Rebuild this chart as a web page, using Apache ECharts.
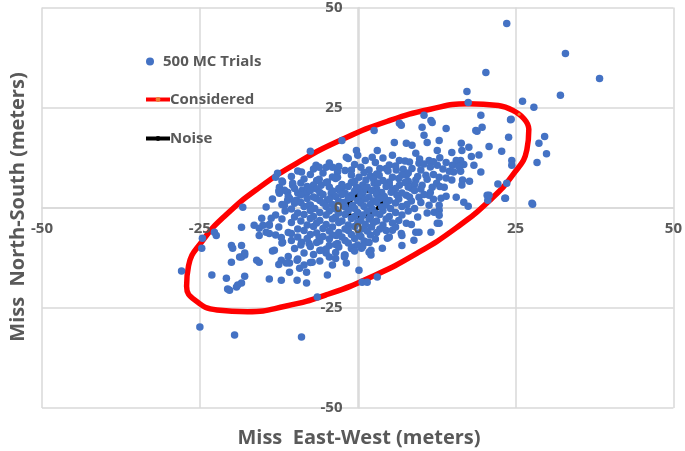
<!DOCTYPE html>
<html>
<head>
<meta charset="utf-8">
<script src="https://cdn.jsdelivr.net/npm/echarts@6/dist/echarts.min.js"></script>
<style>
  html, body { margin: 0; padding: 0; background: #ffffff; }
  #chart { width: 685px; height: 451px; }
</style>
</head>
<body>
<div id="chart"></div>
<script>
// axis range / ticks
const axisMin = -50
const axisMax = 50
const axisStep = 25

// Considered region boundary
const consideredEllipse = [
  [25.56, 23.33], [22.28, 25.51], [17.48, 25.94], [11.49, 24.6], [4.72, 21.6],
  [-2.37, 17.11], [-9.3, 11.46], [-15.6, 5.03], [-20.84, -1.75], [-24.65, -8.4],
  [-26.79, -14.48], [-27.1, -19.57], [-25.56, -23.33], [-22.28, -25.51], [-17.48, -25.94],
  [-11.49, -24.6], [-4.72, -21.6], [2.37, -17.11], [9.3, -11.46], [15.6, -5.03],
  [20.84, 1.75], [24.65, 8.4], [26.79, 14.48], [27.1, 19.57], [25.56, 23.33]
]

// Noise region boundary (small, near the origin)
const noiseEllipse = [
  [3.9, 2.34], [3.52, 3.73], [2.5, 4.38], [1.1, 4.13], [-0.3, 3.04], [-1.32, 1.41],
  [-1.7, -0.34], [-1.32, -1.73], [-0.3, -2.38], [1.1, -2.13], [2.5, -1.04], [3.52, 0.59],
  [3.9, 2.34]
]

// 500 MC trials, miss east-west / north-south (meters)
const trials = [
  // outer / upper right
  [23.6, 46.0], [32.9, 38.5], [38.3, 32.3], [32.1, 28.1], [26.1, 26.6], [27.9, 25.1], [20.3, 33.8],
  [17.3, 29.0], [17.5, 26.3], [19.5, 23.1], [24.2, 22.0], [19.7, 20.1], [18.9, 19.1], [23.9, 17.6],
  [29.6, 17.8], [28.7, 16.1], [29.9, 13.5], [28.4, 11.3], [20.8, 15.3], [22.8, 14.1], [17.6, 15.1],
  [16.5, 14.3], [18.0, 12.8], [19.2, 13.2], [24.4, 11.8], [24.4, 10.6], [16.8, 10.8], [18.4, 10.6],
  [19.5, 8.9], [16.3, 9.1], [16.6, 6.9], [17.7, 6.6], [22.2, 5.9], [23.6, 6.1], [20.8, 3.1],
  [20.6, 1.9], [23.3, 2.4], [27.7, 0.9], [16.8, 1.4], [17.5, 0.4], [16.3, 11.8],
  [2.6, 19.3], [10.5, 23.1], [11.6, 21.8], [6.6, 21.1], [14.0, 19.8], [18.7, 19.3], [16.4, 16.1],
  [24.3, 22.1],
  // upper middle
  [6.9, 20.6], [10.2, 20.1], [11.8, 21.3], [5.8, 16.3], [7.7, 16.1], [8.6, 15.6], [10.5, 18.1],
  [11.0, 16.3], [12.9, 16.8], [12.6, 14.3], [14.9, 13.8], [3.1, 14.3], [2.3, 12.6], [5.5, 13.1],
  [6.6, 11.8], [9.2, 13.6], [9.7, 11.1], [8.6, 9.8], [11.3, 11.8], [12.6, 10.6], [14.0, 11.3],
  [15.6, 11.8], [15.2, 8.9], [12.9, 7.6], [10.8, 8.1], [9.2, 6.9], [7.7, 8.1], [6.1, 9.4],
  [4.5, 9.8], [3.4, 8.1], [1.8, 9.4], [1.3, 6.9], [2.6, 6.1], [5.0, 6.4], [6.6, 5.6], [8.5, 4.9],
  [10.2, 5.6], [11.8, 5.1], [13.7, 5.1], [14.9, 6.9], [15.6, 2.6], [13.2, 2.4], [11.3, 3.1],
  [9.7, 2.6], [7.7, 3.1], [5.3, 3.9], [4.5, 1.9], [0.2, 7.6], [-0.2, 5.1], [0.6, 2.6], [-1.0, 3.1],
  [1.0, 4.4],
  // upper left
  [-2.5, 16.8], [-7.5, 14.1], [-12.7, 8.6], [-13.0, 7.6], [-18.2, 0.1], [-8.9, 8.9], [-12.4, 5.1],
  [-10.3, 5.6], [-11.1, 3.9], [-8.8, 4.4], [-8.1, 3.6], [-11.1, 1.9], [-9.7, 1.9], [-11.6, 0.6],
  [-6.6, 10.6], [-6.1, 10.1], [-5.0, 10.1], [-4.0, 10.1], [-3.2, 8.9], [-1.8, 12.6], [-6.1, 7.1],
  [-5.8, 5.6], [-4.2, 3.6], [-4.8, 1.9], [-6.6, 2.4], [-7.7, 0.6], [-2.9, 4.4], [-0.2, 14.3],
  [0.0, 13.1], [-1.0, 9.4], [-4.8, 6.4], [-3.2, 7.6], [-2.4, 5.1], [-10.8, 2.4], [-10.0, 1.1],
  [-12.4, 3.6], [-11.9, 6.4], [-11.6, 4.4], [-10.3, 6.1],
  // lower right
  [27.6, 1.1], [23.4, 2.4], [20.5, 3.1], [11.3, 0.6], [12.1, -1.1], [12.9, -0.6], [12.9, -3.9],
  [9.7, -6.1], [11.6, -6.1], [8.9, -8.1], [7.7, -3.9], [7.0, -6.9], [5.5, -5.6], [4.7, -7.6],
  [3.9, -10.1], [2.1, -10.6], [1.5, -8.6], [0.6, -10.1], [0.2, -15.6], [3.1, -17.3], [-2.1, -12.3],
  [-0.6, -9.8], [0.7, -18.6], [1.5, -18.6], [7.0, -9.4], [6.9, -6.4], [9.2, -6.1], [12.6, -3.9],
  [12.9, -1.9], [12.9, 0.6], [1.8, -11.1], [2.1, -11.8],
  // lower left
  [-6.4, -22.3], [-4.8, -16.8], [-8.1, -18.8], [-9.6, -18.1], [-12.1, -18.1], [-14.0, -17.8],
  [-18.4, -18.8], [-19.2, -19.8], [-20.3, -20.6], [-9.2, -15.1], [-8.1, -16.1], [-10.8, -16.1],
  [-12.1, -13.1], [-10.8, -13.8], [-9.6, -13.1], [-8.5, -14.3], [-7.2, -13.6], [-2.1, -11.8],
  [-1.8, -13.8], [-16.4, -4.4], [-15.2, -2.6], [-15.0, -4.4], [-14.0, -6.4], [-13.7, -2.6],
  [-18.4, -9.4], [-17.9, -11.8], [-18.4, -12.3], [-20.0, -9.4], [-16.0, -13.1], [-15.6, -13.6],
  [-12.1, -7.4], [-10.5, -6.4], [-11.9, -8.6], [-8.9, -8.6], [-7.7, -8.9], [-6.1, -7.4],
  [-5.0, -11.3], [-5.8, -10.6], [-4.5, -9.4], [-3.2, -8.9], [-3.4, -6.9],
  [-27.9, -15.8], [-24.7, -10.1], [-24.6, -7.6], [-22.7, -6.1], [-22.4, -6.9], [-23.1, -16.8],
  [-20.8, -17.6], [-20.6, -20.3], [-19.0, -19.3], [-17.9, -17.1], [-20.0, -13.6], [-19.8, -10.1],
  [-18.4, -4.9], [-18.7, -12.3], [-15.6, -6.9], [-25.0, -29.8], [-19.5, -31.8], [-8.9, -32.3],
  [-14.5, -6.1], [-14.0, -4.4], [-13.2, -10.6], [-11.3, -13.8], [-17.9, -11.3], [-15.6, -5.1],
  // dense core
  [-1.5, 12.3], [1.2, 11.8], [4.0, 12.4], [7.5, 11.7], [9.8, 12.2], [13.0, 12.5],
  [-4.5, 11.2], [-0.5, 10.8], [2.8, 11.3], [5.0, 10.7], [8.2, 11.4], [10.5, 10.9], [12.0, 11.5], [15.0, 10.6],
  [-7.0, 9.7], [-3.0, 10.3], [0.5, 10.1], [3.5, 9.8], [6.0, 10.4], [7.2, 9.6], [11.5, 10.2], [13.5, 9.7], [16.0, 10.3],
  [-9.5, 9.2], [-5.5, 8.7], [-2.0, 9.3], [1.0, 8.8], [4.8, 9.2], [8.0, 8.7], [10.0, 9.4], [14.5, 9.1],
  [-10.5, 7.8], [-7.5, 8.3], [-4.0, 7.7], [-1.0, 8.2], [2.0, 7.9], [3.0, 8.4], [5.5, 7.6], [7.0, 8.2], [9.5, 7.8], [12.0, 8.3],
  [-12.0, 6.7], [-8.5, 7.2], [-6.5, 6.8], [-3.5, 7.3], [-0.5, 6.6], [2.5, 7.2], [4.0, 6.8], [6.5, 7.3], [8.0, 6.6], [11.0, 7.1], [14.0, 7.4],
  [-9.0, 6.2], [-7.0, 5.7], [-5.0, 6.3], [-2.5, 5.8], [-1.0, 6.3], [0.8, 5.7], [3.2, 6.2], [5.0, 5.6], [7.5, 6.3], [9.0, 5.8], [12.5, 6.1], [16.5, 5.7],
  [-10.0, 4.8], [-8.0, 5.3], [-6.5, 4.7], [-4.5, 5.2], [-3.0, 4.8], [-1.5, 5.3], [0.0, 4.6], [1.5, 5.2], [3.0, 4.7], [4.5, 5.3], [6.0, 4.8], [8.0, 5.2], [10.0, 4.7], [13.0, 5.3],
  [-12.5, 4.2], [-9.5, 3.7], [-7.5, 4.3], [-6.0, 3.8], [-4.0, 4.2], [-2.0, 3.6], [-0.5, 4.1], [0.8, 3.7], [2.2, 4.3], [3.8, 3.8], [5.5, 4.2], [7.0, 3.7], [9.0, 4.3], [11.5, 3.8],
  [-11.0, 2.8], [-9.0, 3.2], [-7.0, 2.7], [-5.5, 3.3], [-3.5, 2.8], [-2.5, 3.3], [-1.0, 2.6], [0.5, 3.2], [1.8, 2.7], [3.0, 3.3], [4.2, 2.8], [6.2, 3.2], [8.2, 2.7], [10.5, 3.3], [14.0, 2.9],
  [-13.5, 2.2], [-10.0, 1.7], [-8.0, 2.3], [-6.0, 1.8], [-4.5, 2.2], [-3.0, 1.6], [-1.5, 2.3], [0.0, 1.8], [1.2, 2.2], [2.5, 1.7], [3.5, 2.3], [5.0, 1.8], [6.5, 2.2], [8.5, 1.7], [12.0, 2.1],
  [-12.0, 0.8], [-9.0, 1.3], [-7.5, 0.7], [-5.5, 1.2], [-4.0, 0.8], [-2.2, 1.3], [-0.8, 0.6], [0.5, 1.2], [2.0, 0.8], [3.0, 1.4], [4.5, 0.7], [6.0, 1.2], [7.8, 0.8], [10.0, 1.3],
  [-14.5, 0.2], [-10.5, -0.3], [-8.5, 0.3], [-6.8, -0.2], [-5.0, 0.3], [-3.5, -0.3], [-2.0, 0.2], [-0.5, -0.2], [1.0, 0.3], [2.3, -0.3], [3.8, 0.2], [5.2, -0.2], [7.0, 0.3], [9.0, -0.2],
  [-11.5, -0.8], [-9.5, -1.3], [-7.5, -0.7], [-6.0, -1.2], [-4.5, -0.8], [-3.0, -1.3], [-1.5, -0.7], [0.0, -1.2], [1.5, -0.8], [2.8, -1.3], [4.0, -0.7], [6.0, -1.2], [8.0, -0.8], [11.0, -1.3],
  [-13.0, -1.8], [-10.0, -2.3], [-8.5, -1.7], [-7.0, -2.2], [-5.0, -1.8], [-3.5, -2.3], [-2.0, -1.7], [-0.5, -2.2], [0.8, -1.8], [2.0, -2.3], [3.5, -1.7], [5.0, -2.2], [7.0, -1.8], [9.5, -2.3],
  [-12.0, -2.8], [-9.0, -3.3], [-7.5, -2.7], [-6.0, -3.2], [-4.0, -2.8], [-2.5, -3.3], [-1.0, -2.7], [0.5, -3.2], [1.8, -2.8], [3.0, -3.3], [4.5, -2.8], [6.5, -3.2],
  [-14.0, -4.2], [-10.5, -3.7], [-8.0, -4.3], [-6.5, -3.8], [-5.0, -4.2], [-3.0, -3.7], [-1.5, -4.3], [0.0, -3.8], [1.2, -4.2], [2.5, -3.7], [4.0, -4.3], [5.5, -3.8], [8.5, -4.2],
  [-12.5, -4.8], [-9.5, -5.3], [-7.0, -4.7], [-5.5, -5.2], [-4.0, -4.8], [-2.0, -5.3], [-0.5, -4.7], [1.0, -5.2], [2.2, -4.8], [3.5, -5.3], [6.0, -4.8],
  [-11.0, -6.2], [-8.5, -5.7], [-6.5, -6.3], [-4.5, -5.8], [-3.0, -6.2], [-1.5, -5.7], [0.2, -6.3], [1.5, -5.8], [3.0, -6.2], [4.5, -5.7],
  [-13.0, -6.8], [-9.5, -7.3], [-7.5, -6.7], [-5.5, -7.2], [-4.0, -6.8], [-2.5, -7.3], [-1.0, -6.7], [0.5, -7.2], [2.0, -6.8], [5.0, -7.3],
  [-10.5, -8.2], [-8.0, -7.7], [-6.0, -8.3], [-4.5, -7.8], [-2.0, -8.2], [-0.5, -7.7], [1.0, -8.3], [2.8, -7.8],
  [-12.0, -8.8], [-9.0, -9.3], [-6.5, -8.7], [-3.5, -9.2], [-1.5, -8.8], [0.0, -9.3], [1.8, -8.7],
  [-10.0, -10.2], [-7.5, -9.7], [-5.0, -10.3], [-3.0, -9.8], [-1.0, -10.2], [0.8, -9.7],
  [-13.5, -10.8], [-8.5, -11.3], [-6.0, -10.7], [-3.5, -11.2], [-0.5, -10.8],
  [-11.0, -12.2], [-7.0, -11.7], [-4.5, -12.3], [-2.0, -11.8],
  [-9.5, -12.8], [-6.0, -13.3], [-3.5, -12.7],
  [-12.5, -14.2], [-7.5, -13.7], [-4.0, -14.3]
]

const labelFont = 'Open Sans'
const gray = '#595959'
const gridGray = '#d9d9d9'

let myChart = echarts.init(document.getElementById('chart'))

// plot area in pixels
const gridLeft = 42
const gridTop = 7
const gridW = 633
const gridH = 401

function legendFor(name, top, left, w, h, pad) {
  return {
    data: [name],
    left: left,
    top: top,
    itemWidth: w,
    itemHeight: h,
    selectedMode: false,
    lineStyle: { width: 4 },
    textStyle: {
      color: gray,
      fontSize: 15,
      fontWeight: 'bold',
      fontFamily: labelFont,
      padding: pad
    }
  }
}

// axes sit on the zero lines, so shift them inwards from the frame.
// first pair draws lines (under the points), second pair only the labels (over them)
function valueAxis(isX, labelsOnly) {
  return {
    type: 'value',
    position: isX ? 'bottom' : 'left',
    min: axisMin,
    max: axisMax,
    interval: axisStep,
    offset: isX ? -gridH / 2 : -gridW / 2,
    z: labelsOnly ? 10 : 0,
    axisLine: { show: !labelsOnly, onZero: false, lineStyle: { color: gridGray, width: 1.5 } },
    axisTick: { show: false },
    splitLine: { show: !labelsOnly, lineStyle: { color: gridGray, width: 1.5 } },
    axisLabel: {
      show: labelsOnly,
      color: gray,
      fontSize: 15,
      fontWeight: 'bold',
      fontFamily: labelFont,
      margin: isX ? 14 : 16
    }
  }
}

var option = {
  backgroundColor: '#ffffff',
  animation: false,
  grid: { left: gridLeft, top: gridTop, width: gridW, height: gridH },
  xAxis: [valueAxis(true, false), valueAxis(true, true)],
  yAxis: [valueAxis(false, false), valueAxis(false, true)],
  legend: [
    legendFor('500 MC Trials', 49, 141, 8, 8, [0, 0, 0, 4]),
    legendFor('Considered', 87, 139, 24, 6, [0, 0, 0, -5]),
    legendFor('Noise', 126, 139, 24, 6, [0, 0, 0, -5])
  ],
  graphic: [
    {
      type: 'text',
      x: 359,
      y: 438,
      style: {
        text: 'Miss  East-West (meters)',
        fill: gray,
        font: 'bold 20px ' + labelFont,
        align: 'center',
        verticalAlign: 'middle',
        textAlign: 'center',
        textVerticalAlign: 'middle'
      }
    },
    {
      type: 'text',
      x: 18,
      y: 207,
      rotation: Math.PI / 2,
      style: {
        text: 'Miss  North-South (meters)',
        fill: gray,
        font: 'bold 20px ' + labelFont,
        align: 'center',
        verticalAlign: 'middle',
        textAlign: 'center',
        textVerticalAlign: 'middle'
      }
    }
  ],
  series: [
    {
      name: 'Considered',
      type: 'line',
      smooth: true,
      symbol: 'none',
      showSymbol: true,
      lineStyle: { color: '#ff0000', width: 5.5 },
      itemStyle: { color: '#ed7d31' },
      data: consideredEllipse.map(function(p, i) {
        return i === 0 ? { value: p, symbol: 'circle', symbolSize: 3 } : p
      }),
      z: 2
    },
    {
      name: 'Noise',
      type: 'line',
      smooth: true,
      symbol: 'none',
      lineStyle: { color: '#000000', width: 4 },
      itemStyle: { color: '#000000' },
      data: noiseEllipse,
      z: 2
    },
    {
      name: '500 MC Trials',
      type: 'scatter',
      symbol: 'circle',
      symbolSize: 7.5,
      itemStyle: { color: '#4472c4', opacity: 1 },
      data: trials,
      z: 3
    }
  ]
}

myChart.setOption(option)
</script>
</body>
</html>
